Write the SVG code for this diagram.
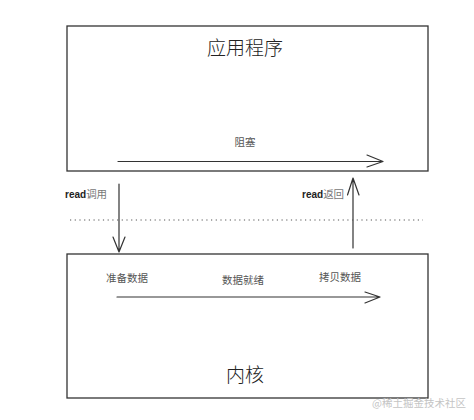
<svg xmlns="http://www.w3.org/2000/svg" width="474" height="420" viewBox="0 0 474 420">
<style>
.box{fill:#fff;stroke:#333;stroke-width:1.3}
.ln{fill:none;stroke:#333;stroke-width:1.2;stroke-linecap:round;stroke-linejoin:round}
.title{font-family:"Noto Sans CJK SC",sans-serif;font-size:19px;fill:#222;text-anchor:middle;font-weight:300}
.lbl{font-family:"Noto Sans CJK SC",sans-serif;font-size:10.5px;fill:#555;text-anchor:middle}
.rd{font-family:"Liberation Sans",sans-serif;font-size:10px;font-weight:bold;fill:#222}
.cj{font-family:"Noto Sans CJK SC",sans-serif;font-size:10.5px;fill:#777;font-weight:normal}
.wm{font-family:"Noto Sans CJK SC",sans-serif;font-size:10.5px;fill:#c4c4c4}
</style>
<rect width="474" height="420" fill="#fff"/>
<g id="app">
<rect class="box" x="67" y="26" width="361" height="145"/>
<text class="title" x="245" y="55">应用程序</text>
<text class="lbl" x="245" y="146" fill="#777">阻塞</text>
</g>
<g id="kernel">
<rect class="box" x="67" y="254" width="361" height="144"/>
<text class="lbl" x="127" y="282">准备数据</text>
<text class="lbl" x="243" y="284">数据就绪</text>
<text class="lbl" x="340" y="281">拷贝数据</text>
<text class="title" x="245" y="382">内核</text>
</g>
<g id="connectors">
<path class="ln" d="M118 161.5H383M367 155L383 161.5L367 167"/>
<path class="ln" d="M117 297H380M365 292L380 297L365 303"/>
<path class="ln" d="M119 184V252M113 237L119 252L125 237"/>
<path class="ln" d="M353 248V178M347.5 195L353 178L359 195"/>
<line x1="70" y1="220" x2="423" y2="220" stroke="#555" stroke-width="1.2" stroke-dasharray="1.2 3.5"/>
</g>
<g id="labels">
<text class="rd" x="65" y="198">read<tspan class="cj">调用</tspan></text>
<text class="rd" x="302" y="198">read<tspan class="cj">返回</tspan></text>
<text class="wm" x="372" y="407">@稀土掘金技术社区</text>
</g>
</svg>
